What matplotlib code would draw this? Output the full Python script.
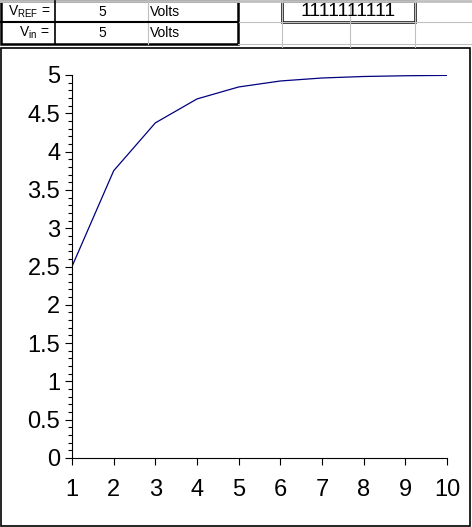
import matplotlib.pyplot as plt
from matplotlib.lines import Line2D
from matplotlib.patches import Rectangle

plt.rcParams["font.family"] = ["Liberation Sans", "DejaVu Sans"]

W, H = 472, 527
steps = [1, 2, 3, 4, 5, 6, 7, 8, 9, 10]
voltage = [2.5, 3.75, 4.375, 4.6875, 4.84375, 4.921875, 4.9609, 4.9805, 4.9902, 4.9951]
y_ticks = [0, 0.5, 1, 1.5, 2, 2.5, 3, 3.5, 4, 4.5, 5]
y_labels = ["0", "0.5", "1", "1.5", "2", "2.5", "3", "3.5", "4", "4.5", "5"]
vref = 5
vin = 5
code = "1111111111"

fig = plt.figure(figsize=(W / 100, H / 100), dpi=100)


def fx(px):
    return px / W


def fy(py):
    return 1 - py / H


def hline(x0, x1, y, c="#c0c0c0", lw=0.8):
    fig.add_artist(Line2D([fx(x0), fx(x1)], [fy(y), fy(y)], color=c, lw=lw))


def vline(x, y0, y1, c="#c0c0c0", lw=0.8):
    fig.add_artist(Line2D([fx(x), fx(x)], [fy(y0), fy(y1)], color=c, lw=lw))


# spreadsheet grid
for y in (22, 44):
    hline(238, W, y)
for x in (282, 350, 415):
    vline(x, 0, 47)
vline(148, 0, 44)
hline(0, W, 1, lw=2)

# bold borders around input block and result cell
fig.add_artist(Rectangle((fx(1), fy(44)), fx(237), 43 / H, fill=False, ec="black", lw=1.8))
hline(1, 238, 22, c="black", lw=1.5)
vline(55, 1, 44, c="black", lw=1.2)
fig.add_artist(Rectangle((fx(282), fy(22)), fx(133), 21 / H, fill=False, ec="black", lw=1.8))

fig.text(fx(50), fy(12), r"V$_{\mathregular{REF}}$ =", ha="right", va="center", fontsize=10)
fig.text(fx(50), fy(33), r"V$_{\mathregular{in}}$ =", ha="right", va="center", fontsize=10)
fig.text(fx(102), fy(12), str(vref), ha="center", va="center", fontsize=10)
fig.text(fx(102), fy(33), str(vin), ha="center", va="center", fontsize=10)
fig.text(fx(150), fy(12), "Volts", ha="left", va="center", fontsize=10)
fig.text(fx(150), fy(33), "Volts", ha="left", va="center", fontsize=10)
fig.text(fx(348), fy(12), code, ha="center", va="center", fontsize=14)

# chart frame
fig.add_artist(Rectangle((fx(1), fy(526)), fx(469), 478 / H, fill=False, ec="black", lw=1.2))

ax = fig.add_axes([fx(72), fy(458), fx(375), 383 / H])
ax.plot(steps, voltage, color="#000080", lw=0.9)
ax.set_xlim(1, 10)
ax.set_ylim(0, 5)
ax.set_xticks(steps)
ax.set_yticks(y_ticks)
ax.set_yticklabels(y_labels)
ax.set_yticks([i / 10 for i in range(51)], minor=True)
ax.tick_params(axis="both", labelsize=17, direction="out", width=0.8, length=5)
ax.tick_params(axis="x", pad=10)
ax.tick_params(axis="y", which="minor", length=3, width=0.8)
for s in ("top", "right"):
    ax.spines[s].set_visible(False)

fig.savefig("out.png", dpi=100)
